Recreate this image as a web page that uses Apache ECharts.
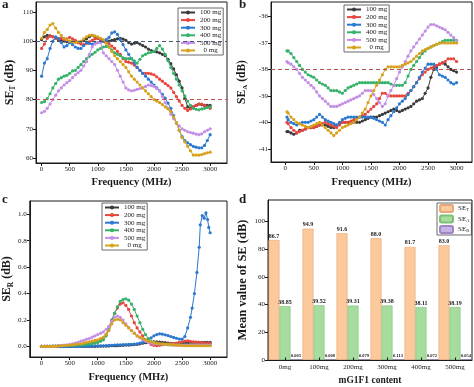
<!DOCTYPE html>
<html><head><meta charset="utf-8">
<script src="https://cdn.jsdelivr.net/npm/echarts@6/dist/echarts.min.js"></script>
<style>html,body{margin:0;padding:0;background:#fff}#c{width:474px;height:387px}</style>
</head><body><div id="c"></div>
<script>
// ---------- data ----------
const SAMPLES = ['100 mg','200 mg','300 mg','400 mg','500 mg','0 mg'];
const FREQ = [0,50,100,150,200,250,300,350,400,450,500,550,600,650,700,750,800,850,900,950,1000,1050,1100,1150,1200,1250,1300,1350,1400,1450,1500,1550,1600,1650,1700,1750,1800,1850,1900,1950,2000,2050,2100,2150,2200,2250,2300,2350,2400,2450,2500,2550,2600,2650,2700,2750,2800,2850,2900,2950,3000];
const FREQ_B = [30,50,100,150,200,250,300,350,400,450,500,550,600,650,700,750,800,850,900,950,1000,1050,1100,1150,1200,1250,1300,1350,1400,1450,1500,1550,1600,1650,1700,1750,1800,1850,1900,1950,2000,2050,2100,2150,2200,2250,2300,2350,2400,2450,2500,2550,2600,2650,2700,2750,2800,2850,2900,2950,3000];
const FREQ_C300 = [0,50,100,150,200,250,300,350,400,450,500,550,600,650,700,750,800,850,900,950,1000,1050,1100,1150,1200,1250,1300,1350,1400,1450,1500,1550,1600,1650,1700,1750,1800,1850,1900,1950,2000,2050,2100,2150,2200,2250,2300,2350,2400,2450,2500,2550,2600,2650,2680,2720,2765,2805,2825,2860,2895,2925,2955,2975,3000];
const FREQ_TICKS = [0,500,1000,1500,2000,2500,3000];
const SET_TICKS = [60,70,80,90,100,110];
const SEA_TICKS = [-41,-40,-39,-38,-37,-36];
const SER_TICKS = [0,0.2,0.4,0.6,0.8,1.0];
const MEAN_TICKS = [0,20,40,60,80,100];

// panel a : SE_T
const SET_100 = [100.5,101.5,102,101.8,101.5,101,100.5,100.2,100,99.8, 99.5,99.8,100,99.5,99.8,100.2,100.8,101.5,102,101.5, 101,100.5,100,99.8,100,100.3,100.5,100.8,101,100.7, 100.3,99.5,99,99.3,99.5,99,98.5,98,97.3,96.8, 96.5,96.3,96,95.5,95,93.8,92.3,90.5,88.5,86.3, 84,80.5,77.5,77,77.5,78,78.5,78.3,78,78, 78];
const SET_200 = [97.5,99,101,101.8,101.5,101,100.8,101,100.5,100.8, 101.3,100.8,100.3,99.5,99,98.8,99.2,99.8,100.3,100.8, 101,100.5,100,99.5,99,98.3,97.5,96.5,95.5,94, 93,92.8,92.5,91.8,91,90,89,89,89,88.8, 88.5,87.8,87,86.3,85.5,84.8,84,82.5,81,79.5, 78,77,76.3,76.8,77.5,78,78.5,78.5,78,77.5, 77];
const SET_300 = [88,92.5,94,97.5,100,101.5,101,99.5,98,98.5, 99.5,98.8,98,97.5,97.5,98.5,99.5,99.2,99,99.3, 99.5,99.8,100,100.5,101.3,102.8,103.2,102.3,100.5,98.8, 97,95.5,94,92.5,91,90,89,88,87,86, 85,84,83,81.8,80.5,78.8,77,74.5,72,69.5, 67.3,66,65.2,64.6,64,63.7,63.5,63.5,64.3,66, 68];
const SET_400 = [79,79.3,80.3,82,84,85.5,87,87.5,88,88.3, 89,89.8,90,91,92,93,94,94.8,95.5,96.2, 97,97.5,98,98.2,98,97,96,95.5,95,94.3, 94,94,94,93.3,92.5,93.8,95,95.5,96,96.2, 96.5,97.5,98.5,97.3,95.5,93.3,91,89,87,85, 83,81.2,79.5,78,77,76.7,76.5,76.8,77,77.3, 77.5];
const SET_500 = [75.5,76,77,78.5,80,81.5,83,84,85,85.8, 86.5,87.5,88.5,89.2,90,91.5,93,95.5,98,99, 99.5,99.5,96,95,94,93,92,90,88,86, 84,83.3,83,83.2,83.5,83.8,84,84.5,85,84.8, 84.5,83.8,83,81,79,77,75,73.5,72,71, 70,69.5,69,68.7,68.5,68.2,68,68.3,69,69.5, 70];
const SET_0 = [101,103,104,105.5,106,104.5,103,102,101,100.5, 100,99.8,99.5,99.8,100,100.8,101.5,102,102,101.8, 101.5,101,100.5,99.3,98,96.5,95,94,93,92, 91,89.5,88,87,86,85,84,83,82,81, 80,79.5,79,78.3,77.5,76.8,76,74,72,69.5, 67,65.5,64,62.5,61,61,61,61.2,61.5,61.8, 62];

// panel b : SE_A
const SEA_100 = [-40.35,-40.35,-40.4,-40.45,-40.4,-40.3,-40.3,-40.25,-40.2,-40.2, -40.2,-40.15,-40.1,-40.1,-40.1,-40.15,-40.2,-40.2,-40.1,-40.05, -40,-40,-40,-40,-40,-40,-40,-39.95,-39.9,-39.85, -39.8,-39.8,-39.8,-39.75,-39.7,-39.65,-39.6,-39.55,-39.5,-39.55, -39.6,-39.55,-39.5,-39.45,-39.4,-39.3,-39.2,-39.15,-39.1,-38.9, -38.7,-38.3,-38,-37.9,-37.8,-37.75,-37.8,-37.9,-38,-38.05, -38.1];
const SEA_200 = [-40,-40.05,-40.2,-40.3,-40.4,-40.35,-40.3,-40.25,-40.2,-40.2, -40.2,-40.15,-40.1,-40.05,-40,-40.05,-40.1,-40.15,-40.2,-40.1, -40,-40,-40,-39.95,-39.9,-39.85,-39.8,-39.75,-39.7,-39.6, -39.5,-39.4,-39.3,-39.1,-38.9,-38.9,-39,-39,-39,-39, -39,-39,-39,-38.9,-38.8,-38.65,-38.5,-38.35,-38.2,-38.1, -38,-37.95,-37.9,-37.85,-37.8,-37.75,-37.7,-37.6,-37.6,-37.6, -37.7];
const SEA_300 = [-39.8,-39.9,-40,-40.05,-40.1,-40.05,-40,-40,-40,-39.95, -39.9,-39.8,-39.7,-39.8,-39.9,-39.95,-40,-40.05,-40.1,-40, -39.9,-39.85,-39.8,-39.8,-39.8,-39.8,-39.8,-39.8,-39.8,-39.8, -39.8,-39.85,-39.9,-39.95,-40,-40.1,-39.9,-39.75,-39.6,-39.45, -39.3,-39.2,-39.1,-38.95,-38.8,-38.65,-38.5,-38.3,-38.1,-37.95, -37.8,-37.8,-37.8,-38,-38.2,-38.25,-38.3,-38.4,-38.5,-38.55, -38.5];
const SEA_400 = [-37.3,-37.3,-37.4,-37.55,-37.7,-37.85,-38,-38.1,-38.2,-38.25, -38.3,-38.4,-38.5,-38.55,-38.6,-38.7,-38.8,-38.8,-38.8,-38.85, -38.9,-38.8,-38.7,-38.65,-38.6,-38.55,-38.5,-38.5,-38.5,-38.5, -38.5,-38.5,-38.5,-38.5,-38.5,-38.5,-38.5,-38.55,-38.6,-38.6, -38.6,-38.6,-38.5,-38.25,-38,-37.85,-37.7,-37.55,-37.4,-37.3, -37.2,-37.15,-37.1,-37.05,-37,-36.95,-36.9,-36.9,-36.9,-36.9, -36.9];
const SEA_500 = [-37.7,-37.75,-37.8,-37.9,-38,-38.15,-38.3,-38.4,-38.5,-38.6, -38.7,-38.85,-39,-39.1,-39.2,-39.3,-39.4,-39.4,-39.4,-39.35, -39.3,-39.25,-39.2,-39.15,-39.1,-39.05,-39,-38.9,-38.8,-38.8, -38.8,-38.95,-39.1,-39.25,-39.4,-39.3,-39,-38.8,-38.6,-38.35, -38.1,-37.9,-37.7,-37.5,-37.3,-37.15,-37,-36.85,-36.7,-36.55, -36.4,-36.3,-36.3,-36.35,-36.4,-36.45,-36.5,-36.6,-36.7,-36.8, -36.9];
const SEA_0 = [-39.6,-39.65,-39.8,-39.9,-40,-40.05,-40.1,-40.15,-40.2,-40.15, -40.1,-40.05,-40,-40.1,-40.2,-40.3,-40.4,-40.5,-40.4,-40.3, -40.2,-40.15,-40.1,-40.05,-40,-39.9,-39.8,-39.65,-39.5,-39.25, -39,-38.8,-38.6,-38.4,-38.2,-38,-37.9,-37.9,-37.9,-37.9, -37.9,-37.85,-37.8,-37.75,-37.7,-37.6,-37.5,-37.4,-37.3,-37.25, -37.2,-37.15,-37.1,-37.05,-37,-37,-37,-37,-37,-37, -37];

// panel c : SE_R
const SER_100 = [0,0,0,0,0,0,0,0,0,0, 0,0,0,0,0,0,0,0,0,0, 0.002,0.002,0.003,0.003,0.004,0.005,0.005,0.006,0.007,0.008, 0.01,0.01,0.012,0.014,0.016,0.02,0.024,0.028,0.03,0.032, 0.034,0.034,0.032,0.03,0.028,0.026,0.024,0.022,0.022,0.022, 0.024,0.026,0.028,0.03,0.03,0.03,0.03,0.03,0.03,0.03, 0.03];
const SER_200 = [0,0,0,0,0.002,0.003,0.004,0.005,0.006,0.007, 0.008,0.009,0.01,0.011,0.012,0.014,0.016,0.02,0.025,0.03, 0.035,0.045,0.06,0.09,0.15,0.2,0.25,0.29,0.32,0.33, 0.31,0.28,0.23,0.18,0.14,0.11,0.08,0.05,0.03,0.015, 0.008,0.006,0.008,0.012,0.016,0.02,0.022,0.024,0.026,0.03, 0.035,0.04,0.042,0.038,0.034,0.032,0.03,0.028,0.026,0.025, 0.025];
const SER_300 = [0,0,0,0,0,0,0,0,0,0, 0,0,0,0,0,0.002,0.002,0.003,0.003,0.004, 0.004,0.005,0.005,0.006,0.008,0.009,0.01,0.011,0.012,0.013, 0.014,0.015,0.016,0.018,0.02,0.025,0.03,0.04,0.05,0.065, 0.08,0.09,0.095,0.093,0.088,0.082,0.075,0.068,0.062,0.056, 0.055,0.075,0.14, 0.22,0.29,0.40,0.56,0.75,0.92,0.99,0.97,1.01,0.96,0.90,0.86];
const SER_400 = [0,0,0,0,0.002,0.003,0.004,0.005,0.006,0.007, 0.008,0.009,0.01,0.011,0.012,0.013,0.015,0.018,0.02,0.025, 0.03,0.04,0.05,0.08,0.14,0.2,0.25,0.3,0.34,0.355, 0.36,0.35,0.32,0.28,0.23,0.18,0.13,0.09,0.06,0.04, 0.03,0.025,0.02,0.018,0.015,0.013,0.012,0.011,0.01,0.01, 0.01,0.01,0.01,0.01,0.01,0.01,0.01,0.01,0.01,0.01, 0.01];
const SER_500 = [0,0,0,0,0,0,0.005,0.007,0.01,0.012, 0.015,0.02,0.025,0.03,0.04,0.045,0.055,0.06,0.07,0.08, 0.09,0.1,0.11,0.13,0.15,0.19,0.22,0.23,0.22,0.2, 0.17,0.145,0.12,0.1,0.08,0.065,0.05,0.04,0.03,0.025, 0.02,0.02,0.02,0.018,0.015,0.013,0.012,0.011,0.01,0.01, 0.01,0.01,0.01,0.01,0.01,0.01,0.01,0.01,0.01,0.01, 0.01];
const SER_0 = [0,0,0,0,0,0,0.003,0.005,0.007,0.009, 0.01,0.012,0.015,0.018,0.02,0.025,0.03,0.035,0.04,0.045, 0.05,0.06,0.07,0.09,0.12,0.17,0.2,0.205,0.2,0.18, 0.16,0.14,0.12,0.1,0.08,0.07,0.06,0.05,0.04,0.035, 0.03,0.025,0.02,0.02,0.018,0.015,0.013,0.012,0.01,0.01, 0.005,0.005,0.005,0.005,0.005,0.005,0.005,0.005,0.005,0.005, 0.005];

// panel d : mean values
const CONTENT = ['0mg','100mg','200mg','300mg','400mg','500mg'];
const MEAN_SET = [86.7,94.9,91.6,88.0,81.7,83.0];
const MEAN_SEA = [38.85,39.52,39.31,39.38,38.11,38.19];
const MEAN_SER = [0.005,0.008,0.079,0.113,0.072,0.054];

// ---------- styling ----------
const FONT = '"Liberation Serif","Times New Roman",serif';
const COLORS = ['#3a3a3a','#e8453c','#2b78cf','#35b26a','#c48ee6','#d6a21c'];
const INK = '#1a1a1a';

const zip = (xs, ys) => ys.map((v, i) => [xs[i], v]);
const plain = v => String(v);

function xFreq(gi, min, max, gap) {
  return {
    type: 'value', gridIndex: gi, min, max,
    axisLine: { show: true, onZero: false, lineStyle: { color: INK, width: 1 } },
    axisTick: { show: true, length: 3, customValues: FREQ_TICKS, lineStyle: { color: INK } },
    axisLabel: { customValues: FREQ_TICKS, fontFamily: FONT, fontSize: 7, color: INK, margin: 3, formatter: plain },
    splitLine: { show: false },
    name: 'Frequency (MHz)', nameLocation: 'middle', nameGap: gap,
    nameTextStyle: { fontFamily: FONT, fontWeight: 'bold', fontSize: 10.5, color: INK }
  };
}
function richName(size) {
  return {
    m: { fontFamily: FONT, fontWeight: 'bold', fontSize: size, color: INK },
    s: { fontFamily: FONT, fontWeight: 'bold', fontSize: size * 0.62, color: INK, padding: [size * 0.6, 0, 0, 0] }
  };
}
function yVal(gi, min, max, ticks, name, gap, fmt, size) {
  return {
    type: 'value', gridIndex: gi, min, max,
    axisLine: { show: true, onZero: false, lineStyle: { color: INK, width: 1 } },
    axisTick: { show: true, length: 3, customValues: ticks, lineStyle: { color: INK } },
    axisLabel: { customValues: ticks, fontFamily: FONT, fontSize: 7, color: INK, margin: 3, formatter: fmt || plain },
    splitLine: { show: false },
    name, nameLocation: 'middle', nameGap: gap,
    nameTextStyle: { rich: richName(size), fontFamily: FONT, fontWeight: 'bold', fontSize: size, color: INK }
  };
}
function lineSeries(name, idx, axis, data, marks) {
  const s = {
    type: 'line', name, xAxisIndex: axis, yAxisIndex: axis, data,
    symbol: 'circle', symbolSize: 3.2,
    lineStyle: { width: 1, color: COLORS[idx] }, itemStyle: { color: COLORS[idx] },
    animation: false, z: 2 + idx * 0.01
  };
  if (marks) {
    s.markLine = { silent: true, symbol: ['none', 'none'], label: { show: false }, animation: false,
      data: marks.map(m => ({ yAxis: m[0], lineStyle: { color: m[1], type: [4, 3], width: 1 } })) };
  }
  return s;
}
function legendFor(left, top) {
  return {
    orient: 'vertical', left, top, data: SAMPLES,
    itemWidth: 14, itemHeight: 5, itemGap: 0.6,
    padding: [1, 2, 1, 2], borderColor: '#444', borderWidth: 0.8, borderRadius: 0,
    textStyle: { fontFamily: FONT, fontSize: 7, color: INK },
    formatter: n => n === '0 mg' ? '  0 mg' : n,
    selectedMode: false
  };
}

const SET_ALL = [SET_100, SET_200, SET_300, SET_400, SET_500, SET_0];
const SEA_ALL = [SEA_100, SEA_200, SEA_300, SEA_400, SEA_500, SEA_0];
const SER_ALL = [SER_100, SER_200, SER_300, SER_400, SER_500, SER_0];

const series = [];
SAMPLES.forEach((n, i) => series.push(lineSeries(n, i, 0, zip(FREQ, SET_ALL[i]),
  i === 0 ? [[100, '#4a5878'], [80, '#c8504a']] : null)));
SAMPLES.forEach((n, i) => series.push(lineSeries(n, i, 1, zip(FREQ_B, SEA_ALL[i]),
  i === 0 ? [[-38, '#b9504c']] : null)));
SAMPLES.forEach((n, i) => series.push(lineSeries(n, i, 2, zip(i === 2 ? FREQ_C300 : FREQ, SER_ALL[i]))));

const BAR_COLORS = [['#fcc99c', '#e6a878'], ['#a6dd9f', '#7cbf78'], ['#c7b3e3', '#9f86c4']];
const BAR_SETS = [['SET', MEAN_SET, 1, 6], ['SEA', MEAN_SEA, 2, 6], ['SER', MEAN_SER, 3, 4.5]];
BAR_SETS.forEach((b, k) => series.push({
  type: 'bar', name: b[0], xAxisIndex: 3, yAxisIndex: 3, data: b[1],
  barWidth: 11, barGap: '0%',
  itemStyle: { color: BAR_COLORS[k][0], borderColor: BAR_COLORS[k][1], borderWidth: 0.6 },
  label: { show: true, position: 'top', distance: 1, fontFamily: FONT, fontWeight: 'bold',
    fontSize: b[3], color: INK, formatter: p => p.value.toFixed(b[2]) },
  animation: false
}));

const option = {
  backgroundColor: '#fff',
  animation: false,
  grid: [
    { left: 36, top: 2, width: 191, height: 161, show: true, borderColor: INK, borderWidth: 1, backgroundColor: 'transparent' },
    { left: 271, top: 2, width: 201, height: 160, show: true, borderColor: INK, borderWidth: 1, backgroundColor: 'transparent' },
    { left: 28, top: 201, width: 199, height: 156, show: true, borderColor: INK, borderWidth: 1, backgroundColor: 'transparent' },
    { left: 268, top: 200, width: 204, height: 160, show: true, borderColor: INK, borderWidth: 1, backgroundColor: 'transparent' }
  ],
  xAxis: [
    xFreq(0, -100, 3300, 14),
    xFreq(1, -250, 3270, 15),
    xFreq(2, -210, 3300, 15),
    {
      type: 'category', gridIndex: 3, data: CONTENT, z: 5,
      axisLine: { show: true, lineStyle: { color: INK, width: 1 } },
      axisTick: { show: true, inside: true, length: 2.5, alignWithLabel: true, lineStyle: { color: INK } },
      axisLabel: { fontFamily: FONT, fontSize: 7, color: INK, margin: 4 },
      name: 'mG1F1 content', nameLocation: 'middle', nameGap: 16,
      nameTextStyle: { fontFamily: FONT, fontWeight: 'bold', fontSize: 9.5, color: INK }
    }
  ],
  yAxis: [
    yVal(0, 58.3, 113.4, SET_TICKS, '{m|SE}{s|T}{m| (dB)}', 19, null, 12),
    yVal(1, -41.5, -35.45, SEA_TICKS, '{m|SE}{s|A}{m| (dB)}', 22, null, 11.5),
    yVal(2, -0.08, 1.1, SER_TICKS, '{m|SE}{s|R}{m| (dB)}', 15, v => v.toFixed(1), 12),
    yVal(3, 0, 115.6, MEAN_TICKS, '{m|Mean value of SE (dB)}', 19, null, 12.5)
  ],
  legend: [
    legendFor(178, 8),
    legendFor(344, 5),
    legendFor(102, 203),
    {
      orient: 'vertical', left: 437, top: 203, data: ['SET', 'SEA', 'SER'],
      itemWidth: 13, itemHeight: 7, itemGap: 1.5,
      padding: [1, 2, 1, 2], borderColor: '#444', borderWidth: 0.8,
      textStyle: { fontFamily: FONT, fontSize: 7, color: INK,
        rich: { m: { fontFamily: FONT, fontSize: 7, color: INK }, s: { fontFamily: FONT, fontSize: 4.5, color: INK, padding: [3, 0, 0, 0] } } },
      formatter: n => '{m|SE}{s|' + n.slice(2) + '}',
      selectedMode: false
    }
  ],
  graphic: [
    { type: 'text', left: 2, top: -2, style: { text: 'a', font: 'bold 13px ' + FONT, fill: INK } },
    { type: 'text', left: 239, top: -2, style: { text: 'b', font: 'bold 13px ' + FONT, fill: INK } },
    { type: 'text', left: 2, top: 193, style: { text: 'c', font: 'bold 13px ' + FONT, fill: INK } },
    { type: 'text', left: 239, top: 193, style: { text: 'd', font: 'bold 13px ' + FONT, fill: INK } }
  ],
  series
};
const chart = echarts.init(document.getElementById('c'), null, { renderer: 'canvas' });
chart.setOption(option);
</script></body></html>
